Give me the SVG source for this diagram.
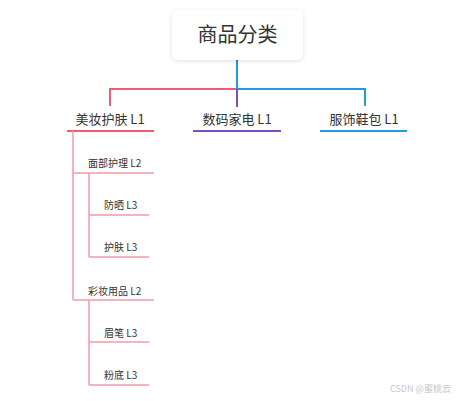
<svg xmlns="http://www.w3.org/2000/svg" width="474" height="401" viewBox="0 0 474 401">
<defs>
<filter id="sh" x="-20%" y="-30%" width="140%" height="160%">
<feDropShadow dx="0" dy="1" stdDeviation="2" flood-color="#000" flood-opacity="0.12"/>
</filter>
</defs>
<style>
text{font-family:"Noto Sans CJK SC","Noto Sans",sans-serif;fill:#333}
.l1{font-size:13px}
.l2{font-size:10px}
.c{fill:none;stroke-width:2}
.red{stroke:#ef5b70}
.pur{stroke:#7b4fc4}
.blu{stroke:#1e9be3}
.pk{stroke:#f29aab;stroke-width:1.5;fill:none}
</style>
<rect width="474" height="401" fill="#fff"/>
<g id="connectors">
<path class="c red" d="M110,106 V89 H237"/>
<path class="c blu" d="M237,60 V89 H365 V106"/>
<path class="c pur" d="M237,89 V107"/>
<line class="c red" x1="67" y1="131" x2="154" y2="131"/>
<line class="c pur" x1="193" y1="131" x2="281" y2="131"/>
<line class="c blu" x1="320" y1="131" x2="407" y2="131"/>
<path class="pk" d="M73,131 V300"/>
<path class="pk" d="M73,173 H154"/>
<path class="pk" d="M73,300 H154"/>
<path class="pk" d="M89,173 V257"/>
<path class="pk" d="M89,215 H149"/>
<path class="pk" d="M89,257 H149"/>
<path class="pk" d="M89,300 V385"/>
<path class="pk" d="M89,342 H149"/>
<path class="pk" d="M89,385 H149"/>
</g>
<g id="root">
<rect x="172" y="10" width="131" height="50" rx="6" fill="#fff" filter="url(#sh)"/>
<text x="237.5" y="42" font-size="20" text-anchor="middle" fill="#444">商品分类</text>
</g>
<g id="n1"><text class="l1" x="110" y="124" text-anchor="middle">美妆护肤 L1</text></g>
<g id="n2"><text class="l1" x="237" y="124" text-anchor="middle">数码家电 L1</text></g>
<g id="n3"><text class="l1" x="364" y="124" text-anchor="middle">服饰鞋包 L1</text></g>
<g id="n11"><text class="l2" x="88" y="167">面部护理 L2</text></g>
<g id="n111"><text class="l2" x="104" y="209">防晒 L3</text></g>
<g id="n112"><text class="l2" x="104" y="251">护肤 L3</text></g>
<g id="n12"><text class="l2" x="88" y="295">彩妆用品 L2</text></g>
<g id="n121"><text class="l2" x="104" y="337">眉笔 L3</text></g>
<g id="n122"><text class="l2" x="104" y="379">粉底 L3</text></g>
<text x="390" y="392" font-size="9" fill="#c8c8c8" style="fill:#c8c8c8">CSDN @蜜桃云</text>
</svg>
